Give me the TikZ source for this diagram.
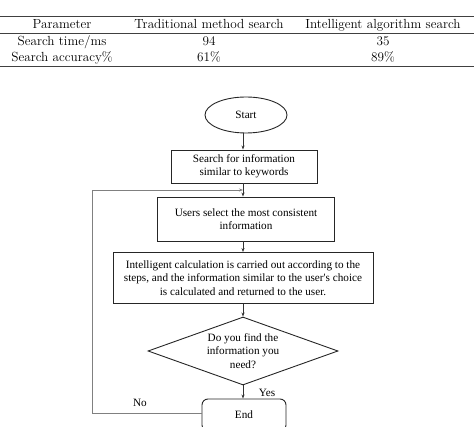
\documentclass[tikz,border=0pt]{standalone}
\usepackage{fontspec}
\newfontfamily\tnr{Liberation Serif}
\usetikzlibrary{shapes.geometric,arrows.meta,calc}
\begin{document}
\begin{tikzpicture}[x=1pt,y=-1pt,
  tabtxt/.style={font=\fontsize{13.2}{15}\selectfont, inner sep=0pt, anchor=base},
  rule/.style={line width=1pt, black!75},
  flow/.style={draw=black!85, line width=0.9pt, font=\tnr\fontsize{11.2}{13.5}\selectfont, align=center, inner sep=0pt},
  conn/.style={black!80, line width=0.6pt, -{Stealth[length=4pt,width=3pt]}},
  loopline/.style={black!50, line width=0.8pt, -{Stealth[length=4pt,width=3pt]}},
  lbl/.style={font=\tnr\fontsize{11.2}{12}\selectfont, inner sep=0pt}]
\useasboundingbox (0,0) rectangle (474,427);
\clip (0,0) rectangle (474,427);
% table
\draw[rule] (0,17) -- (474,17);
\draw[rule] (0,34) -- (474,34);
\draw[rule] (0,67) -- (474,67);
\node[tabtxt] (h1) at (62,29) {Parameter};
\node[tabtxt] (h2) at (209,29) {Traditional method search};
\node[tabtxt] (h3) at (383,29) {Intelligent algorithm search};
\node[tabtxt] (a1) at (62,46) {Search time/ms};
\node[tabtxt] (a2) at (209,46) {94};
\node[tabtxt] (a3) at (383,46) {35};
\node[tabtxt] (b1) at (62,62) {Search accuracy\%};
\node[tabtxt] (b2) at (209,62) {61\%};
\node[tabtxt] (b3) at (383,62) {89\%};
% flowchart
\node[flow, ellipse, minimum width=82, minimum height=36] (start) at (246,115) {Start};
\node[flow, rectangle, minimum width=146, minimum height=33] (s1) at (244,166.5) {Search for information\\similar to keywords};
\node[flow, rectangle, minimum width=177, minimum height=44] (s2) at (246,219) {Users select the most consistent\\information};
\node[flow, rectangle, minimum width=260, minimum height=51] (s3) at (243,278) {Intelligent calculation is carried out according to the\\steps, and the information similar to the user's choice\\is calculated and returned to the user.};
\node[flow, diamond, aspect=2.8, minimum width=190, minimum height=68] (q) at (243,351) {Do you find the\\information you\\need?};
\node[flow, rectangle, rounded corners=6pt, minimum width=84, minimum height=32] (e) at (244,415) {End};
\coordinate (j) at (243,190);
\coordinate (lc) at (92,413);
\draw[conn] (start.south -| 243,0) -- (s1.north -| 243,0);
\draw[conn] (s1.south -| 243,0) -- (s2.north -| 243,0);
\draw[conn] (s2.south -| 243,0) -- (s3.north -| 243,0);
\draw[conn] (s3.south -| 243,0) -- (q.north);
\draw[conn] (q.south) -- (e.north -| 243,0);
\draw[loopline] (e.west |- lc) -- (lc) -- (lc |- j) -- (j);
\node[lbl] (yes) at (267,393) {Yes};
\node[lbl] (no) at (140,403) {No};
\end{tikzpicture}
\end{document}
